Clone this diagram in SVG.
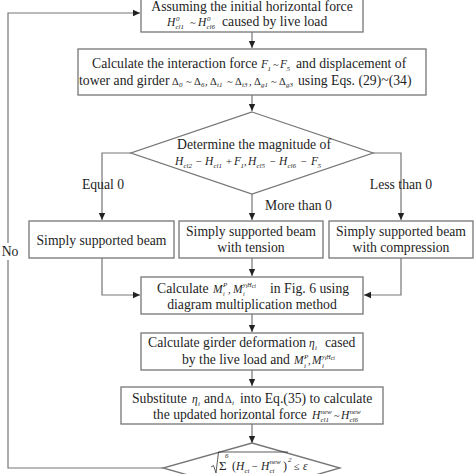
<svg xmlns="http://www.w3.org/2000/svg" width="474" height="474" viewBox="0 0 474 474">
<defs>
<style>
.box{fill:#fff;stroke:#767676;stroke-width:1.3}
.ln{fill:none;stroke:#767676;stroke-width:1.2}
.t{font-family:"Liberation Serif","Times New Roman",serif;font-size:13.7px;fill:#1e1e1e}
.c{text-anchor:middle}
.m{font-family:"Liberation Serif","Times New Roman",serif;font-style:italic;font-size:11.5px;fill:#1e1e1e}
.u{font-family:"Liberation Serif","Times New Roman",serif;font-size:10.5px;fill:#1e1e1e}
.s{font-family:"Liberation Serif","Times New Roman",serif;font-style:italic;font-size:7px;fill:#1e1e1e}
</style>
<marker id="ah" markerWidth="8" markerHeight="8" refX="7" refY="4" orient="auto" markerUnits="userSpaceOnUse">
<path d="M0,0.8 L7,4 L0,7.2 Z" fill="#222"/>
</marker>
</defs>
<rect width="474" height="474" fill="#fff"/>

<g id="connectors">
<path class="ln" d="M252,32 V48" marker-end="url(#ah)"/>
<path class="ln" d="M252,95 V111" marker-end="url(#ah)"/>
<path class="ln" d="M131,153 H102 V220" marker-end="url(#ah)"/>
<path class="ln" d="M373,153 H401 V220" marker-end="url(#ah)"/>
<path class="ln" d="M252,194 V220" marker-end="url(#ah)"/>
<path class="ln" d="M102,258 V295 H140" marker-end="url(#ah)"/>
<path class="ln" d="M401,258 V295 H364" marker-end="url(#ah)"/>
<path class="ln" d="M252,258 V276" marker-end="url(#ah)"/>
<path class="ln" d="M252,314 V332" marker-end="url(#ah)"/>
<path class="ln" d="M252,370 V386" marker-end="url(#ah)"/>
<path class="ln" d="M252,424 V443" marker-end="url(#ah)"/>
<path class="ln" d="M163,468 H8 V13 H140" marker-end="url(#ah)"/>
<rect x="1" y="243" width="18" height="17" fill="#fff"/>
<text class="t c" x="10" y="256">No</text>
<text class="t c" x="103" y="189">Equal 0</text>
<text class="t c" x="401" y="189">Less than 0</text>
<text class="t" x="265" y="210">More than 0</text>
</g>

<g id="n1">
<rect class="box" x="141" y="-3" width="222" height="35"/>
<text class="t c" x="252" y="11">Assuming the initial horizontal force</text>
<text class="m" x="167" y="26">H</text><text class="s" x="175.5" y="29">cl1</text><text class="s" x="176" y="21">0</text>
<text class="u" x="190" y="26">~</text>
<text class="m" x="198" y="26">H</text><text class="s" x="206.5" y="29">cl6</text><text class="s" x="207" y="21">0</text>
<text class="t" x="222" y="26">caused by live load</text>
</g>

<g id="n2">
<rect class="box" x="78" y="49" width="348" height="46"/>
<text class="t" x="92" y="68">Calculate the interaction force</text>
<text class="m" x="261" y="68">F</text><text class="s" x="267.5" y="71">1</text>
<text class="u" x="273" y="68">~</text>
<text class="m" x="280" y="68">F</text><text class="s" x="286.5" y="71">5</text>
<text class="t" x="296" y="68">and displacement of</text>
<text class="t" x="79" y="85">tower and girder</text>
<text class="u" x="172" y="85">Δ</text><text class="s" x="179" y="87">0</text>
<text class="u" x="186" y="85">~</text>
<text class="u" x="194" y="85">Δ</text><text class="s" x="201" y="87">6</text>
<text class="u" x="205" y="85">,</text>
<text class="u" x="210" y="85">Δ</text><text class="s" x="217" y="87">t1</text>
<text class="u" x="227" y="85">~</text>
<text class="u" x="235" y="85">Δ</text><text class="s" x="242" y="87">t3</text>
<text class="u" x="249" y="85">,</text>
<text class="u" x="254" y="85">Δ</text><text class="s" x="261" y="87">g1</text>
<text class="u" x="271" y="85">~</text>
<text class="u" x="279" y="85">Δ</text><text class="s" x="286" y="87">g3</text>
<text class="t" x="298" y="85">using Eqs. (29)~(34)</text>
</g>

<g id="n3">
<polygon class="box" points="252,112 373,153 252,194 131,153"/>
<text class="t c" x="254" y="149">Determine the magnitude of</text>
<text class="m" x="175" y="165">H</text><text class="s" x="183.5" y="168">cl2</text>
<text class="u" x="196" y="165">−</text>
<text class="m" x="205" y="165">H</text><text class="s" x="213.5" y="168">cl1</text>
<text class="u" x="226" y="165">+</text>
<text class="m" x="234" y="165">F</text><text class="s" x="240.5" y="168">1</text>
<text class="u" x="244" y="165">,</text>
<text class="m" x="248" y="165">H</text><text class="s" x="256.5" y="168">cl5</text>
<text class="u" x="270" y="165">−</text>
<text class="m" x="279" y="165">H</text><text class="s" x="287.5" y="168">cl6</text>
<text class="u" x="301" y="165">−</text>
<text class="m" x="311" y="165">F</text><text class="s" x="317.5" y="168">5</text>
</g>

<g id="n4">
<rect class="box" x="29" y="221" width="145" height="37"/>
<text class="t c" x="101.5" y="245">Simply supported beam</text>
</g>

<g id="n5">
<rect class="box" x="179" y="221" width="144" height="37"/>
<text class="t c" x="251" y="236">Simply supported beam</text>
<text class="t c" x="251" y="252">with tension</text>
</g>

<g id="n6">
<rect class="box" x="329" y="221" width="144" height="37"/>
<text class="t c" x="401" y="236">Simply supported beam</text>
<text class="t c" x="401" y="252">with compression</text>
</g>

<g id="n7">
<rect class="box" x="141" y="277" width="222" height="37"/>
<text class="t" x="157" y="292.5">Calculate</text>
<text class="m" x="213" y="292.5">M</text><text class="s" x="223" y="295.5" style="font-size:6px">i</text><text class="s" x="223" y="287">P</text>
<text class="u" x="228" y="292.5">,</text>
<text class="m" x="233" y="292.5">M</text><text class="s" x="243" y="295.5" style="font-size:6px">i</text><text class="s" x="243" y="287" style="font-size:6px">y<tspan dy="1">i</tspan><tspan dy="-1">H</tspan><tspan dy="1">ci</tspan></text>
<text class="t" x="270" y="292.5">in Fig. 6 using</text>
<text class="t c" x="252" y="309">diagram multiplication method</text>
</g>

<g id="n8">
<rect class="box" x="141" y="333" width="222" height="37"/>
<text class="t" x="148" y="347">Calculate girder deformation</text>
<text class="m" x="309" y="347">η</text><text class="s" x="315" y="350">i</text>
<text class="t" x="325" y="347">cased</text>
<text class="t" x="182" y="364">by the live load and</text>
<text class="m" x="294" y="364">M</text><text class="s" x="304" y="368">i</text><text class="s" x="304" y="358.5">P</text>
<text class="u" x="308" y="364">,</text>
<text class="m" x="312" y="364">M</text><text class="s" x="322" y="368">i</text><text class="s" x="322" y="358.5" style="font-size:6px">y<tspan dy="1">i</tspan><tspan dy="-1">H</tspan><tspan dy="1">ci</tspan></text>
</g>

<g id="n9">
<rect class="box" x="121" y="387" width="262" height="37"/>
<text class="t" x="132" y="403">Substitute</text>
<text class="m" x="192" y="403">η</text><text class="s" x="198" y="406">i</text>
<text class="t" x="204" y="403">and</text>
<text class="u" x="225" y="403">Δ</text><text class="s" x="232" y="405">i</text>
<text class="t" x="240" y="403">into Eq.(35) to calculate</text>
<text class="t" x="153" y="419">the updated horizontal force</text>
<text class="m" x="312" y="419">H</text><text class="s" x="320.5" y="422">cl1</text><text class="s" x="320.5" y="414">new</text>
<text class="u" x="334" y="419">~</text>
<text class="m" x="341" y="419">H</text><text class="s" x="349.5" y="422">cl6</text><text class="s" x="349.5" y="414">new</text>
</g>

<g id="n10">
<polygon class="box" points="252,443 340,468 252,493 163,468"/>
<path class="ln" d="M211,467 L213.5,465.5 L216,473 L218.5,452 H288" style="stroke:#333;stroke-width:0.8"/>
<text class="u" x="219" y="470" style="font-size:13px">Σ</text>
<text class="s" x="225" y="457.5">6</text>
<text class="u" x="232" y="470" style="font-size:12px">(</text>
<text class="m" x="236" y="470">H</text><text class="s" x="244.5" y="472.5">ci</text>
<text class="u" x="252" y="470">−</text>
<text class="m" x="261" y="470">H</text><text class="s" x="269.5" y="472.5">ci</text><text class="s" x="269.5" y="464">new</text>
<text class="u" x="283" y="470" style="font-size:12px">)</text>
<text class="s" x="288" y="462">2</text>
<text class="u" x="294" y="470">≤</text>
<text class="m" x="303" y="470">ε</text>
</g>
</svg>
